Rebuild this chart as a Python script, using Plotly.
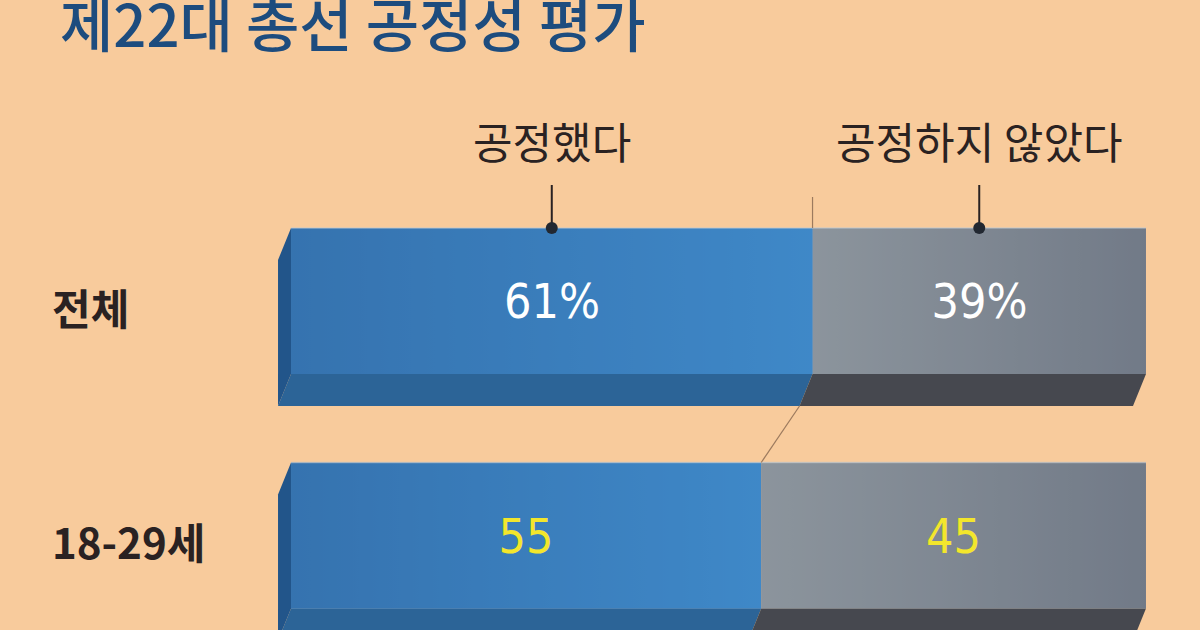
import plotly.graph_objects as go

# ---------------- data ----------------
title_text = "제22대 총선 공정성 평가"
categories = ["전체", "18-29세"]
series_names = ["공정했다", "공정하지 않았다"]
fair = [61, 55]
unfair = [39, 45]
fair_labels = ["61%", "55"]
unfair_labels = ["39%", "45"]

# ---------------- style ----------------
BG = "#F8CB9C"
BAR_ALPHA = 0.55
BLUE = f"rgba(58,125,190,{BAR_ALPHA})"
BLUE_UNDER = ["rgb(48,102,158)", "rgb(69,149,212)"]
GRAY = f"rgba(128,136,148,{BAR_ALPHA})"
GRAY_UNDER = ["rgb(155,163,168)", "rgb(97,105,121)"]
BLUE_BOTTOM = "#2C6497"
BLUE_SIDE = "#22558A"
GRAY_BOTTOM = "#46484F"
TOP_EDGE = "rgba(190,200,210,0.6)"
TITLE_COLOR = "#1D4C7E"
TEXT_DARK = "#2A2222"
LABEL_COLORS = ["#FFFFFF", "#F3E62C"]
FONT_KR = "Noto Sans CJK KR"
FONT_NUM = "DejaVu Sans Condensed, Liberation Sans Narrow, Liberation Sans, sans-serif"

W, H = 1200, 630
X_RANGE = [-34.04, 106.32]      # 0% at 291px, 100% at 1146px
ROW_PX = 234.5                  # pixels per row unit
Y0_PX = 301                     # pixel of first row centre
Y_RANGE = [(H - Y0_PX) / ROW_PX, -Y0_PX / ROW_PX]
BAR_W = 146 / ROW_PX
DX = -13 * (X_RANGE[1] - X_RANGE[0]) / W   # depth offset (x units)
DY = 32 / ROW_PX                           # depth offset (y units)

ypos = list(range(len(categories)))

fig = go.Figure()


def face(xs, ys, color=None, gradient=None, axes=("x", "y")):
    kw = dict(fillcolor=color) if gradient is None else dict(
        fillgradient=dict(type="horizontal", colorscale=[[0, gradient[0]], [1, gradient[1]]]))
    fig.add_trace(go.Scatter(
        x=xs + [xs[0]], y=ys + [ys[0]], mode="lines", fill="toself",
        line=dict(width=0), hoverinfo="skip", showlegend=False,
        xaxis=axes[0], yaxis=axes[1], **kw,
    ))


# lighting under-layer + 3D extrusion faces (bottom + left side)
for i, y in enumerate(ypos):
    yt, yb = y - BAR_W / 2, y + BAR_W / 2
    f, total = fair[i], fair[i] + unfair[i]
    face([0, f, f, 0], [yt, yt, yb, yb], gradient=BLUE_UNDER)
    face([f, total, total, f], [yt, yt, yb, yb], gradient=GRAY_UNDER)
    face([0, f, f + DX, DX], [yb, yb, yb + DY, yb + DY], BLUE_BOTTOM)
    face([f, total, total + DX, f + DX], [yb, yb, yb + DY, yb + DY], GRAY_BOTTOM)
    face([0, 0, DX, DX], [yt, yb, yb + DY, yt + DY], BLUE_SIDE)

# front faces (bars) on an overlaying axis pair so they sit above the lighting layer
fig.add_trace(go.Bar(
    y=ypos, x=fair, orientation="h", width=BAR_W, name=series_names[0],
    marker=dict(color=BLUE, line=dict(width=0)),
    text=fair_labels, textposition="inside", insidetextanchor="middle",
    textangle=0, constraintext="none",
    textfont=dict(family=FONT_NUM, size=48, color=LABEL_COLORS),
    hoverinfo="skip", showlegend=False, xaxis="x2", yaxis="y2",
))
fig.add_trace(go.Bar(
    y=ypos, x=unfair, base=fair, orientation="h", width=BAR_W, name=series_names[1],
    marker=dict(color=GRAY, line=dict(width=0)),
    text=unfair_labels, textposition="inside", insidetextanchor="middle",
    textangle=0, constraintext="none",
    textfont=dict(family=FONT_NUM, size=48, color=LABEL_COLORS),
    hoverinfo="skip", showlegend=False, xaxis="x2", yaxis="y2",
))

# thin highlight along top edges
top_x, top_y = [], []
for i, y in enumerate(ypos):
    yt = y - BAR_W / 2
    top_x += [0, fair[i] + unfair[i], None]
    top_y += [yt, yt, None]
fig.add_trace(go.Scatter(
    x=top_x, y=top_y, mode="lines", line=dict(color=TOP_EDGE, width=1.5),
    hoverinfo="skip", showlegend=False, xaxis="x2", yaxis="y2",
))

# connector between the two rows at the split
y1t = ypos[0] - BAR_W / 2
y1b = ypos[0] + BAR_W / 2
y2t = ypos[1] - BAR_W / 2
fig.add_trace(go.Scatter(
    x=[fair[0], fair[0], None, fair[0] + DX, fair[1]],
    y=[y1t - 31 / ROW_PX, y1t, None, y1b + DY, y2t],
    mode="lines", line=dict(color="#9C7A5E", width=1.2),
    hoverinfo="skip", showlegend=False, xaxis="x2", yaxis="y2",
))

# legend callouts
callout_x = [fair[0] / 2, fair[0] + unfair[0] / 2]
for cx, name in zip(callout_x, series_names):
    fig.add_trace(go.Scatter(
        x=[cx, cx], y=[y1t - 43 / ROW_PX, y1t], mode="lines",
        line=dict(color="#2A2222", width=2), hoverinfo="skip", showlegend=False,
        xaxis="x2", yaxis="y2",
    ))
    fig.add_trace(go.Scatter(
        x=[cx], y=[y1t], mode="markers",
        marker=dict(color="#222831", size=12), hoverinfo="skip", showlegend=False,
        xaxis="x2", yaxis="y2",
    ))
    fig.add_annotation(
        x=cx, y=y1t - 88 / ROW_PX, xref="x2", yref="y2", text=name, showarrow=False,
        font=dict(family=FONT_KR, size=43, color=TEXT_DARK), xanchor="center", yanchor="middle",
    )

# row labels
for y, cat in zip(ypos, categories):
    fig.add_annotation(
        x=50 / W, y=y, xref="paper", yref="y", text=cat, showarrow=False,
        xanchor="left", yanchor="middle", yshift=-5,
        font=dict(family=FONT_KR, size=42, color=TEXT_DARK, weight="bold"),
    )

# title
fig.add_annotation(
    x=58 / W, y=1, xref="paper", yref="paper", text=title_text, showarrow=False,
    xanchor="left", yanchor="top", yshift=22,
    font=dict(family=FONT_KR, size=58, color=TITLE_COLOR, weight=500),
)

axis_common = dict(visible=False, fixedrange=True)
fig.update_layout(
    width=W, height=H, margin=dict(l=0, r=0, t=0, b=0),
    paper_bgcolor=BG, plot_bgcolor=BG, barmode="stack", bargap=0,
    xaxis=dict(range=X_RANGE, **axis_common),
    yaxis=dict(range=Y_RANGE, tickvals=ypos, ticktext=categories, **axis_common),
    xaxis2=dict(range=X_RANGE, overlaying="x", **axis_common),
    yaxis2=dict(range=Y_RANGE, overlaying="y", tickvals=ypos, ticktext=categories, **axis_common),
    showlegend=False,
)

fig.write_html("out.html", config={"displayModeBar": False},
               post_script="document.body.style.margin='0';")
